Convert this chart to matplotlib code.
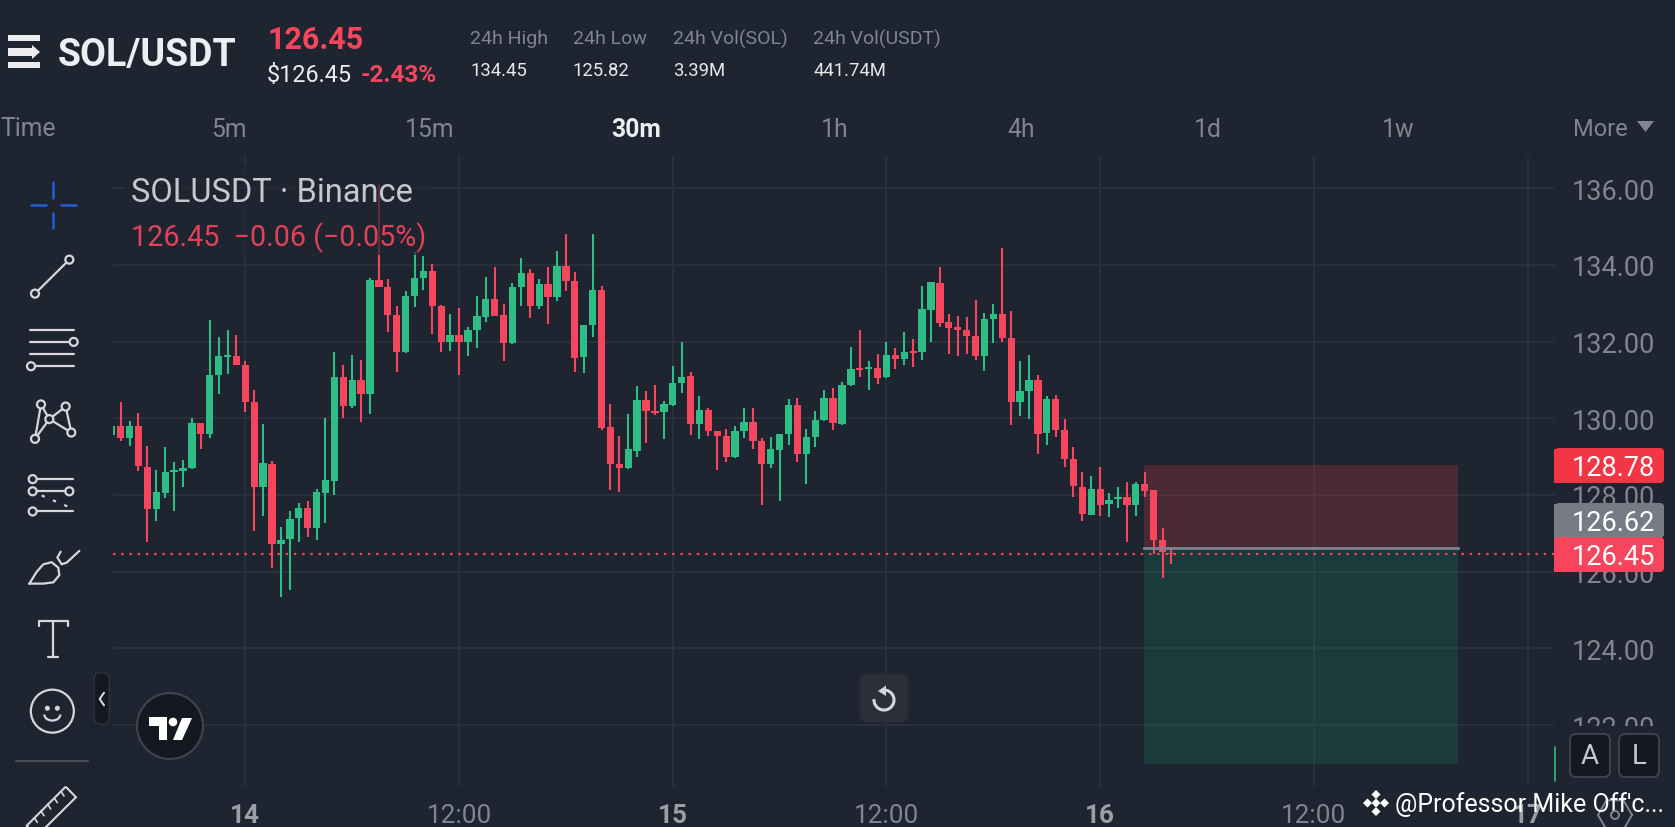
#!/usr/bin/env python
# SOL/USDT 30m candles, screenshot of the Binance mobile chart

import numpy as np
import matplotlib
matplotlib.use('Agg')
import matplotlib.pyplot as plt
from matplotlib.patches import Rectangle, FancyBboxPatch, Circle, Arc, Polygon

plt.rcParams['font.family'] = ['Roboto', 'DejaVu Sans']

# candle position, 0 = 14th 00:00, one step = 30 minutes
candle_pos = np.arange(-15, 105)

opens = [129.56, 129.81, 129.48, 129.80, 128.73, 127.63, 128.05, 128.60, 128.62, 128.70,
         129.88, 129.59, 131.13, 131.60, 131.61, 131.40, 130.42, 128.22, 128.82, 126.72,
         126.85, 127.39, 127.66, 127.15, 128.06, 128.37, 131.07, 130.31, 131.00, 130.63,
         133.61, 133.42, 132.69, 131.72, 133.19, 133.65, 133.84, 132.92, 131.99, 132.16,
         131.99, 132.31, 132.65, 133.11, 132.69, 131.95, 133.41, 133.78, 132.92, 133.51,
         133.15, 133.98, 133.58, 131.60, 132.44, 133.35, 129.76, 128.80, 128.70, 129.15,
         130.47, 130.19, 130.16, 130.34, 130.93, 131.09, 129.86, 130.22, 129.68, 129.55,
         128.98, 129.68, 129.90, 129.41, 128.81, 129.18, 129.59, 130.34, 129.06, 129.51,
         129.95, 130.54, 129.85, 130.86, 131.30, 131.29, 131.30, 131.07, 131.65, 131.54,
         131.75, 131.72, 132.82, 133.52, 132.50, 132.38, 132.30, 132.14, 131.62, 132.58,
         132.73, 132.08, 130.42, 130.70, 131.00, 129.61, 130.50, 129.69, 128.94, 128.22,
         127.49, 128.15, 127.76, 127.89, 127.95, 127.73, 128.29, 128.12, 126.83, 126.50]
closes = [129.81, 129.49, 129.80, 128.75, 127.63, 128.07, 128.61, 128.65, 128.71, 129.88,
          129.59, 131.13, 131.61, 131.64, 131.40, 130.42, 128.20, 128.83, 126.73, 126.84,
          127.38, 127.66, 127.15, 128.07, 128.38, 131.07, 130.32, 131.00, 130.63, 133.61,
          133.43, 132.68, 131.73, 133.19, 133.65, 133.84, 132.93, 131.98, 132.16, 131.99,
          132.30, 132.66, 133.11, 132.67, 131.97, 133.43, 133.78, 132.92, 133.50, 133.15,
          133.98, 133.58, 131.57, 132.44, 133.35, 129.74, 128.80, 128.71, 129.19, 130.48,
          130.18, 130.14, 130.36, 130.93, 131.07, 129.84, 130.22, 129.67, 129.55, 128.99,
          129.68, 129.90, 129.41, 128.81, 129.20, 129.59, 130.34, 129.06, 129.52, 129.95,
          130.54, 129.87, 130.87, 131.28, 131.26, 131.33, 131.06, 131.64, 131.54, 131.74,
          131.71, 132.85, 133.54, 132.48, 132.35, 132.30, 132.15, 131.62, 132.58, 132.72,
          132.08, 130.42, 130.70, 131.00, 129.60, 130.50, 129.69, 128.94, 128.23, 127.50,
          128.15, 127.75, 127.88, 127.95, 127.73, 128.28, 128.10, 126.83, 126.52, 126.45]
highs = [129.81, 130.43, 129.94, 130.15, 129.28, 128.65, 129.24, 128.85, 128.92, 130.01,
         129.88, 132.56, 132.13, 132.30, 132.18, 131.49, 130.74, 129.85, 128.89, 127.16,
         127.57, 127.78, 127.85, 128.15, 130.01, 131.73, 131.39, 131.66, 131.53, 133.65,
         136.10, 133.63, 132.93, 133.32, 134.34, 134.22, 134.01, 132.96, 132.73, 132.87,
         132.37, 133.18, 133.68, 133.94, 132.97, 133.52, 134.17, 133.89, 133.63, 133.94,
         134.35, 134.80, 133.80, 132.44, 134.80, 133.44, 130.36, 129.54, 130.10, 130.85,
         130.70, 130.87, 130.45, 131.35, 131.99, 131.20, 130.57, 130.26, 129.68, 129.73,
         129.80, 130.28, 130.28, 129.48, 129.50, 129.59, 130.50, 130.52, 129.71, 130.18,
         130.73, 130.80, 130.95, 131.85, 132.30, 131.50, 131.67, 131.98, 131.82, 132.26,
         132.06, 133.44, 133.54, 133.93, 132.72, 132.66, 132.63, 133.07, 132.75, 132.97,
         134.45, 132.80, 131.50, 131.66, 131.13, 130.57, 130.60, 129.98, 129.26, 128.61,
         128.50, 128.72, 128.04, 128.22, 128.35, 128.33, 128.59, 128.12, 127.14, 126.63]
lows = [129.56, 129.40, 129.28, 128.63, 126.78, 127.33, 127.91, 127.59, 128.22, 128.68,
        129.21, 129.48, 130.63, 131.15, 131.40, 130.17, 127.07, 127.44, 126.11, 125.33,
        125.53, 126.78, 126.91, 126.83, 127.26, 128.00, 130.02, 130.26, 129.89, 130.11,
        133.43, 132.24, 131.21, 131.70, 132.89, 133.35, 132.19, 131.73, 131.75, 131.12,
        131.61, 131.84, 132.52, 132.67, 131.50, 131.93, 132.93, 132.61, 132.85, 132.45,
        133.06, 133.31, 131.21, 131.17, 132.13, 129.70, 128.13, 128.09, 128.68, 128.98,
        129.35, 130.09, 129.46, 130.31, 130.67, 129.57, 129.47, 129.54, 128.66, 128.87,
        128.97, 129.48, 129.21, 127.73, 128.70, 127.85, 129.31, 128.87, 128.28, 129.26,
        129.93, 129.69, 129.82, 130.85, 131.08, 130.73, 130.89, 131.06, 131.29, 131.40,
        131.34, 131.53, 131.98, 132.39, 131.67, 131.62, 131.67, 131.53, 131.22, 131.96,
        131.98, 129.83, 130.05, 129.98, 129.07, 129.31, 129.50, 128.72, 127.94, 127.32,
        127.49, 127.45, 127.43, 127.67, 126.78, 127.46, 127.95, 126.46, 125.83, 126.19]

x_ticks = [0, 24, 48, 72, 96, 120, 144]
x_labels = ['14', '12:00', '15', '12:00', '16', '12:00', '17']
y_ticks = [122, 124, 126, 128, 130, 132, 134, 136]

last_price = 126.45
stop_price = 128.78
entry_price = 126.62
target_price = 120.99
tool_left, tool_right = 100.9, 136.2

bg = '#1e2430'
grid_c = '#2b313c'
green = '#2ebd85'
red = '#f6465d'
dim = '#80858f'
icon_c = '#d5d7dc'

W, H = 1675, 828
fig = plt.figure(figsize=(W / 100, H / 100), dpi=100, facecolor=bg)

# price chart
ax = fig.add_axes([113 / W, 1 - 787 / H, (1554 - 113) / W, (787 - 158) / H], facecolor=bg)
ax.set_xlim(-14.86, 146.96)
ax.set_ylim(120.415, 136.81)
for s in ax.spines.values():
    s.set_visible(False)
ax.grid(color=grid_c, linewidth=1.4)
ax.set_axisbelow(True)
ax.yaxis.tick_right()
ax.set_yticks(y_ticks)
ax.set_yticklabels(['%.2f' % v for v in y_ticks], fontsize=19.5, color=dim)
ax.set_xticks(x_ticks)
ax.set_xticklabels(x_labels, fontsize=18.8, color=dim)
ax.tick_params(axis='both', length=0)
ax.tick_params(axis='y', pad=12.5)
ax.tick_params(axis='x', pad=12)
for lab in ax.get_xticklabels():
    if lab.get_text() in ('14', '15', '16', '17'):
        lab.set_fontweight('bold')
        lab.set_color('#9a9ea7')

# position tool
ax.add_patch(Rectangle((tool_left, entry_price), tool_right - tool_left, stop_price - entry_price,
                       facecolor='#b13841', alpha=0.3, edgecolor='none', zorder=2))
ax.add_patch(Rectangle((tool_left, target_price), tool_right - tool_left, entry_price - target_price,
                       facecolor='#146d5b', alpha=0.3, edgecolor='none', zorder=2))

# candles
opens_a = np.array(opens)
closes_a = np.array(closes)
colors = [green if c >= o else red for o, c in zip(opens_a, closes_a)]
ax.vlines(candle_pos, lows, highs, colors=colors, linewidth=1.5, zorder=3)
body_h = np.maximum(np.abs(closes_a - opens_a), 0.04)
ax.bar(candle_pos, body_h, bottom=np.minimum(opens_a, closes_a), width=0.82, color=colors,
       linewidth=0, zorder=4)

ax.plot([tool_left, tool_right], [entry_price, entry_price], color='#7d8590', lw=2, zorder=5)
ax.axhline(last_price, color=red, lw=1.6, linestyle=(0, (1.1, 2.6)), zorder=6)

# second axes over the chart, in screen pixels, for the app controls
ui = fig.add_axes([0, 0, 1, 1], facecolor='none')
ui.set_xlim(0, W)
ui.set_ylim(H, 0)
ui.axis('off')


def line(xs, ys, c=icon_c, lw=1.6):
    ui.plot(xs, ys, color=c, lw=lw, solid_capstyle='round', solid_joinstyle='round')


def ring(x, y, r, c=icon_c, lw=1.6, fc=bg):
    ui.add_patch(Circle((x, y), r, facecolor=fc, edgecolor=c, lw=lw, zorder=4))


def zx(v):
    return v / 3


# the toolbar was measured on a crop stretched 2.383 times vertically
def zy(v):
    return 170 + v / 2.383


# legend mask dims the long wick behind the title
ui.add_patch(Rectangle((125, 165), 305, 91, facecolor=bg, alpha=0.7, edgecolor='none'))
ui.text(131, 193, 'SOLUSDT · Binance', fontsize=23.5, color='#c5c8ce', va='center')
ui.text(131, 238, '126.45  −0.06 (−0.05%)', fontsize=20.6, color=red, va='center', alpha=0.9)

# cover under the price scale that cuts the 122.00 label
ui.add_patch(Rectangle((1555, 727), 120, 60, facecolor=bg, edgecolor='none'))


# price badges, stacked so they do not overlap
def badge(y, c, label):
    ui.add_patch(FancyBboxPatch((1556, y - 16), 107, 33, boxstyle='round,pad=0,rounding_size=3',
                                facecolor=c, edgecolor=c, lw=1.5, zorder=5))
    ui.add_patch(Rectangle((1554, y - 16.5), 8, 34, facecolor=c, edgecolor='none', zorder=5))
    ui.text(1572, y + 3, label, fontsize=19.5, color='white', va='center', zorder=6)


badge(521, '#787b86', '126.62')
badge(466, '#f23645', '128.78')
badge(555, red, '126.45')

# stray bar at the scale edge
line([1555, 1555], [748, 782], c=green, lw=1.2)

# header
for y0, x1 in [(39, 40), (66, 40)]:
    ui.add_patch(Rectangle((8, y0 - 3), x1 - 8, 6, facecolor='#ececef', edgecolor='none'))
ui.add_patch(Polygon([(8, 49), (32, 49), (32, 46), (40, 53), (32, 60), (32, 57), (8, 57)],
                     facecolor='#ececef', edgecolor='none'))
ui.text(58, 56, 'SOL/USDT', fontsize=27, fontweight='bold', color='#eceef1', va='center')
ui.text(267, 40, '126.45', fontsize=22, fontweight='bold', color=red, va='center')
ui.text(267, 76, '$126.45', fontsize=16.8, color='#eceef1', va='center')
ui.text(361, 76, '-2.43%', fontsize=17.5, fontweight='bold', color=red, va='center')
for x, top, val in [(470, '24h High', '134.45'), (573, '24h Low', '125.82'),
                    (673, '24h Vol(SOL)', '3.39M'), (813, '24h Vol(USDT)', '441.74M')]:
    ui.text(x, 39, top, fontsize=14, color=dim, va='center')
    ui.text(x, 71, val, fontsize=13.3, color='#e6e8ea', va='center')

# interval row
ui.text(0, 129, 'Time', fontsize=17.8, color=dim, va='center')
for x, s in [(229, '5m'), (430, '15m'), (835, '1h'), (1021, '4h'), (1208, '1d'), (1398, '1w')]:
    ui.text(x, 130, s, fontsize=17.8, color=dim, va='center', ha='center')
ui.text(636, 130, '30m', fontsize=17.8, fontweight='bold', color='#eceef1', va='center', ha='center')
ui.text(1573, 129, 'More', fontsize=17, color=dim, va='center')
ui.add_patch(Polygon([(1637, 122), (1654, 122), (1645.5, 133)], facecolor=dim, edgecolor='none'))

# toolbar icons, coordinates from the screenshot
blue = '#2060dc'
line([zx(92), zx(138)], [zy(86), zy(86)], c=blue, lw=1.8)
line([zx(182), zx(229)], [zy(86), zy(86)], c=blue, lw=1.8)
line([zx(160), zx(160)], [zy(32), zy(70)], c=blue, lw=1.8)
line([zx(160), zx(160)], [zy(104), zy(141)], c=blue, lw=1.8)

line([zx(208), zx(105)], [zy(216), zy(297)])
ring(zx(208), zy(216), 4)
ring(zx(105), zy(297), 4)

line([zx(90), zx(223)], [zy(383), zy(383)])
line([zx(90), zx(210)], [zy(412), zy(412)])
line([zx(90), zx(223)], [zy(441), zy(441)])
line([zx(105), zx(223)], [zy(470), zy(470)])
ring(zx(221), zy(412), 4)
ring(zx(93), zy(470), 4)

nodes = {'a': (123, 561), 'b': (197, 566), 'c': (148, 596), 'd': (105, 643), 'e': (214, 628)}
for p, q in ['ad', 'ac', 'ce', 'cd', 'cb', 'be']:
    line([zx(nodes[p][0]), zx(nodes[q][0])], [zy(nodes[p][1]), zy(nodes[q][1])])
for n in nodes.values():
    ring(zx(n[0]), zy(n[1]), 4)

line([zx(112), zx(218)], [zy(739), zy(739)])
line([zx(112), zx(195)], [zy(768), zy(768)])
line([zx(112), zx(218)], [zy(816), zy(816)])
ui.plot([zx(125), zx(205)], [zy(778), zy(805)], color=icon_c, lw=1.6, linestyle=(0, (1.5, 4)))
for xz, yz in [(98, 739), (98, 768), (208, 768), (98, 816)]:
    ring(zx(xz), zy(yz), 4)

brush_x = [88, 110, 130, 155, 175, 178, 160, 130, 88]
brush_y = [988, 960, 942, 937, 950, 968, 985, 988, 988]
line([zx(v) for v in brush_x], [zy(v) for v in brush_y])
hook_x = [182, 172, 185, 200, 238]
hook_y = [912, 926, 942, 938, 910]
line([zx(v) for v in hook_x], [zy(v) for v in hook_y])

line([zx(117), zx(117), zx(203), zx(203)], [zy(1090), zy(1078), zy(1078), zy(1090)])
line([zx(160), zx(160)], [zy(1078), zy(1162)])
line([zx(145), zx(175)], [zy(1162), zy(1162)])

ring(zx(157), zy(1292), 21.5, fc='none')
ui.add_patch(Circle((zx(142), zy(1285)), 1.8, color=icon_c))
ui.add_patch(Circle((zx(172), zy(1285)), 1.8, color=icon_c))
ui.add_patch(Arc((zx(157), zy(1300)), 16, 12, theta1=0, theta2=180, edgecolor=icon_c, lw=1.6))

ui.add_patch(FancyBboxPatch((zx(282), zy(1200)), zx(328) - zx(282), zy(1323) - zy(1200),
                            boxstyle='round,pad=0,rounding_size=7', facecolor='#141820',
                            edgecolor=grid_c, lw=1.2))
line([zx(312), zx(299), zx(312)], [zy(1248), zy(1263), zy(1278)], lw=1.5)
line([zx(48), zx(265)], [zy(1410), zy(1410)], c='#4a4f58', lw=1.4)

# ruler, runs off the bottom
ruler = [(197, 1472), (228, 1497), (110, 1590), (80, 1565)]
ui.add_patch(Polygon([(zx(a), zy(b)) for a, b in ruler], facecolor='none', edgecolor=icon_c, lw=1.5))
for a, b, c_, d in [(183, 1483, 192, 1494), (163, 1499, 172, 1510), (143, 1514, 152, 1525),
                    (123, 1530, 132, 1541), (103, 1546, 112, 1557)]:
    line([zx(a), zx(c_)], [zy(b), zy(d)], lw=1.2)

# TradingView badge
ui.add_patch(Circle((170, 727), 33, facecolor='#141820', edgecolor='#3d424e', lw=1.6))
ui.add_patch(Polygon([(149, 718), (167, 718), (167, 741), (159, 741), (159, 727), (149, 727)],
                     facecolor='white', edgecolor='none'))
ui.add_patch(Circle((173, 723), 4.3, facecolor='white', edgecolor='none'))
ui.add_patch(Polygon([(182, 719), (192, 719), (182, 741), (173, 741)], facecolor='white', edgecolor='none'))

# reset button
ui.add_patch(FancyBboxPatch((860, 675), 48, 48, boxstyle='round,pad=0,rounding_size=8',
                            facecolor='#2a2f3a', edgecolor='#262b35', lw=1))
ui.add_patch(Arc((884, 701), 20, 20, theta1=268, theta2=545, edgecolor=icon_c, lw=2.2))
ui.add_patch(Polygon([(878, 692), (886, 686.5), (886, 697)], facecolor=icon_c, edgecolor='none'))

# A / L buttons
for x0, s in [(1570, 'A'), (1619, 'L')]:
    ui.add_patch(FancyBboxPatch((x0, 735), 40, 43, boxstyle='round,pad=0,rounding_size=6',
                                facecolor='#141820', edgecolor='#3d424e', lw=1.4))
    ui.text(x0 + 20, 757, s, fontsize=20, color='#c5c8ce', ha='center', va='center')

# settings hexagon, cut by the bottom edge
hex_x = 1615 + 17 * np.cos(np.radians(np.arange(0, 361, 60)))
hex_y = 816 + 17 * np.sin(np.radians(np.arange(0, 361, 60)))
line(hex_x, hex_y, c=dim, lw=1.4)
ring(1615, 816, 4, c=dim, lw=1.4, fc='none')

# watermark
for dx, dy in [(0, -8.5), (-8.5, 0), (8.5, 0), (0, 8.5), (0, 0)]:
    ui.add_patch(Polygon([(1376 + dx - 4.5, 804 + dy), (1376 + dx, 804 + dy - 4.5),
                          (1376 + dx + 4.5, 804 + dy), (1376 + dx, 804 + dy + 4.5)],
                         facecolor='white', edgecolor='none'))
ui.text(1395, 805, "@Professor Mike Off'c...", fontsize=18, color='white', va='center')

fig.savefig('out.png', dpi=100, facecolor=bg)
